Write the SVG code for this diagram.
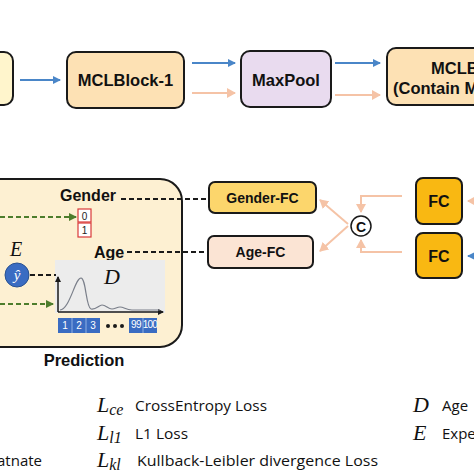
<svg xmlns="http://www.w3.org/2000/svg" width="474" height="474" viewBox="0 0 474 474">
  <defs>
    <style>
      .box { stroke: #1a1a1a; stroke-width: 2; }
      .lbl { font-family: "Liberation Sans", Arial, sans-serif; font-weight: bold; fill: #111; text-anchor: middle; }
      .leg { font-family: "Open Sans", "Noto Sans", sans-serif; font-size: 15px; fill: #111; }
      .math { font-family: "Liberation Serif", "DejaVu Serif", serif; font-style: italic; fill: #111; }
      .blue { stroke: #4a86c8; stroke-width: 2; fill: none; }
      .peach { stroke: #f5c3a6; stroke-width: 2; fill: none; }
      .dash { stroke: #1a1a1a; stroke-width: 2; stroke-dasharray: 5 3; fill: none; }
      .gdash { stroke: #4d7d2c; stroke-width: 2; stroke-dasharray: 5 3; fill: none; }
      .num { font-family: "Liberation Sans", Arial, sans-serif; font-size: 10px; fill: #fff; text-anchor: middle; }
    </style>
    <marker id="ahBlue" markerWidth="8" markerHeight="8" refX="7" refY="4" orient="auto" markerUnits="userSpaceOnUse">
      <path d="M0,0 L8,4 L0,8 Z" fill="#4a86c8"/>
    </marker>
    <marker id="ahPeach" markerWidth="10" markerHeight="10" refX="8" refY="5" orient="auto" markerUnits="userSpaceOnUse">
      <path d="M0,0 L9,5 L0,10 Z" fill="#f5c3a6"/>
    </marker>
    <marker id="ahGreen" markerWidth="8" markerHeight="8" refX="7" refY="4" orient="auto" markerUnits="userSpaceOnUse">
      <path d="M0,0 L8,4 L0,8 Z" fill="#4d7d2c"/>
    </marker>
    <marker id="ahBlack" markerWidth="6" markerHeight="6" refX="5" refY="3" orient="auto" markerUnits="userSpaceOnUse">
      <path d="M0,0 L6,3 L0,6 Z" fill="#1a1a1a"/>
    </marker>
  </defs>

  <rect width="474" height="474" fill="#ffffff"/>

  <!-- top backbone -->
  <g id="input-block">
    <rect class="box" x="-20" y="52" width="33" height="53" rx="9" fill="#fff5cc"/>
  </g>
  <g id="mclblock-1">
    <rect class="box" x="67" y="52" width="117" height="56" rx="9" fill="#fde1b4"/>
    <text class="lbl" x="125.5" y="86" font-size="16.5">MCLBlock-1</text>
  </g>
  <g id="maxpool">
    <rect class="box" x="241" y="51" width="90" height="56" rx="9" fill="#e9dbef"/>
    <text class="lbl" x="286" y="85.5" font-size="16.5">MaxPool</text>
  </g>
  <g id="mclblock-n">
    <rect class="box" x="387" y="48" width="110" height="57" rx="9" fill="#fde1b4"/>
    <text class="lbl" x="431" y="74" font-size="16.5" style="text-anchor:start">MCLB</text>
    <text class="lbl" x="393" y="94" font-size="16.5" style="text-anchor:start">(Contain M</text>
  </g>

  <!-- prediction panel -->
  <g id="prediction">
    <rect class="box" x="-30" y="179" width="212" height="168" rx="22" fill="#fdf0d2"/>
    <text class="lbl" x="88" y="201" font-size="16">Gender</text>
    <text class="lbl" x="109" y="258" font-size="16">Age</text>
    <!-- gender one-hot -->
    <rect x="78" y="209" width="13" height="13" fill="#fff" stroke="#d93a3a" stroke-width="1.2"/>
    <rect x="78" y="223" width="13" height="14" fill="#fff" stroke="#d93a3a" stroke-width="1.2"/>
    <text x="84.5" y="219.5" font-family="Liberation Sans, Arial, sans-serif" font-size="10" text-anchor="middle" fill="#222">0</text>
    <text x="84.5" y="234" font-family="Liberation Sans, Arial, sans-serif" font-size="10" text-anchor="middle" fill="#222">1</text>
    <!-- expectation -->
    <text class="math" x="16" y="256" font-size="20" text-anchor="middle">E</text>
    <circle cx="17" cy="275" r="12" fill="#3a6cc2" stroke="#2a5290" stroke-width="1"/>
    <text x="17" y="280" font-family="Liberation Serif, serif" font-style="italic" font-size="15" fill="#fff" text-anchor="middle">ŷ</text>
    <!-- age distribution chart -->
    <rect x="55" y="260" width="110" height="53" fill="#ececec"/>
    <text class="math" x="112" y="284" font-size="22" text-anchor="middle">D</text>
    <path d="M58,312 L58,277" stroke="#1a1a1a" stroke-width="1.5" marker-end="url(#ahBlack)"/>
    <path d="M58,312 L163,312" stroke="#1a1a1a" stroke-width="1.5" marker-end="url(#ahBlack)"/>
    <path d="M60,310 C70,309 75,278 81,278 C86,278 86,308 91,309 C96,310 99,305 102,305 C106,305 108,309 112,309 C115,309 117,307 120,307 C124,307 126,310 132,310 L160,310" fill="none" stroke="#7a7f8a" stroke-width="1.2"/>
    <!-- age bins -->
    <rect x="58" y="318" width="42" height="15" fill="#3a6cc2"/>
    <path d="M72,318 V333 M86,318 V333" stroke="#8fb0e3" stroke-width="1"/>
    <text class="num" x="65" y="329">1</text>
    <text class="num" x="79" y="329">2</text>
    <text class="num" x="93" y="329">3</text>
    <circle cx="108" cy="326" r="2" fill="#1a1a1a"/>
    <circle cx="115" cy="326" r="2" fill="#1a1a1a"/>
    <circle cx="122" cy="326" r="2" fill="#1a1a1a"/>
    <rect x="129" y="318" width="28" height="15" fill="#3a6cc2"/>
    <path d="M143,318 V333" stroke="#8fb0e3" stroke-width="1"/>
    <text class="num" x="136" y="328" style="letter-spacing:-0.5px">99</text>
    <text class="num" x="150" y="328" style="letter-spacing:-0.8px" font-size="9">100</text>
    <text class="lbl" x="84" y="366" font-size="16.5">Prediction</text>
  </g>

  <!-- heads -->
  <g id="gender-fc">
    <rect class="box" x="209" y="182" width="107" height="31" rx="6" fill="#fcd66c"/>
    <text class="lbl" x="262.5" y="203" font-size="14">Gender-FC</text>
  </g>
  <g id="age-fc">
    <rect class="box" x="208" y="236" width="105" height="32" rx="6" fill="#fbe4d4"/>
    <text class="lbl" x="260.5" y="257" font-size="14">Age-FC</text>
  </g>
  <g id="concat">
    <circle cx="361" cy="226" r="10" fill="#fff" stroke="#1a1a1a" stroke-width="1.5"/>
    <text class="lbl" x="361" y="231.5" font-size="14">C</text>
  </g>
  <g id="fc-top">
    <rect class="box" x="416" y="178" width="46" height="46" rx="7" fill="#f9b812"/>
    <text class="lbl" x="439" y="207" font-size="16">FC</text>
  </g>
  <g id="fc-bottom">
    <rect class="box" x="416" y="233" width="46" height="45" rx="7" fill="#f9b812"/>
    <text class="lbl" x="439" y="261.5" font-size="16">FC</text>
  </g>

  <!-- connectors -->
  <g id="connectors">
    <path class="blue" d="M20,80 L60,80" marker-end="url(#ahBlue)"/>
    <path class="blue" d="M192,63 L235,63" marker-end="url(#ahBlue)"/>
    <path class="peach" d="M192,93 L235,93" marker-end="url(#ahPeach)"/>
    <path class="blue" d="M335,63 L380,63" marker-end="url(#ahBlue)"/>
    <path class="peach" d="M335,95 L380,95" marker-end="url(#ahPeach)"/>

    <path class="peach" d="M402,196 L361,196 L361,212" marker-end="url(#ahPeach)"/>
    <path class="peach" d="M402,252 L361,252 L361,240" marker-end="url(#ahPeach)"/>
    <path class="peach" d="M348,224 L320,200" marker-end="url(#ahPeach)"/>
    <path class="peach" d="M348,226 L320,251" marker-end="url(#ahPeach)"/>
    <path class="peach" d="M480,201 L468,201" marker-end="url(#ahPeach)"/>
    <path class="blue" d="M480,256 L468,256" marker-end="url(#ahBlue)"/>

    <path class="dash" d="M121,199 L208,199"/>
    <path class="dash" d="M127,252 L207,252"/>
    <path class="dash" d="M30,275 L56,275"/>
    <path class="gdash" d="M0,217 L76,217" marker-end="url(#ahGreen)"/>
    <path class="gdash" d="M0,304 L53,304" marker-end="url(#ahGreen)"/>
  </g>

  <!-- legend -->
  <g id="legend">
    <text class="leg" x="42" y="466" text-anchor="end">atnate</text>
    <text class="math" x="97" y="412" font-size="22">L<tspan font-size="16" dy="3">ce</tspan></text>
    <text class="leg" x="135" y="411" textLength="132" lengthAdjust="spacingAndGlyphs">CrossEntropy Loss</text>
    <text class="math" x="97" y="440" font-size="22">L<tspan font-size="16" dy="3">l1</tspan></text>
    <text class="leg" x="135" y="439" textLength="53" lengthAdjust="spacingAndGlyphs">L1 Loss</text>
    <text class="math" x="97" y="467" font-size="22">L<tspan font-size="16" dy="3">kl</tspan></text>
    <text class="leg" x="137" y="466" textLength="241" lengthAdjust="spacingAndGlyphs">Kullback-Leibler divergence Loss</text>
    <text class="math" x="413" y="412" font-size="22">D</text>
    <text class="leg" x="442" y="411">Age</text>
    <text class="math" x="413" y="440" font-size="22">E</text>
    <text class="leg" x="442" y="439">Expe</text>
  </g>
</svg>
